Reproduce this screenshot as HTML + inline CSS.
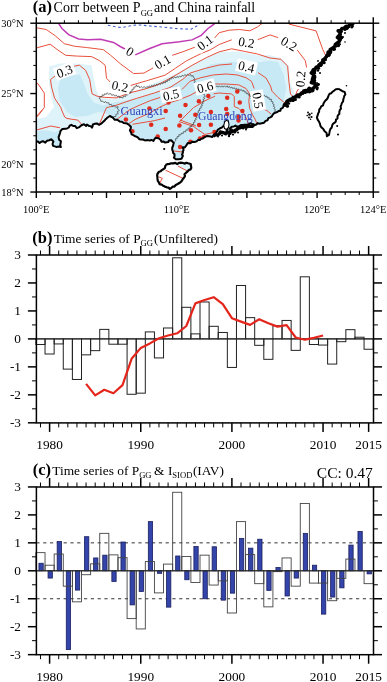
<!DOCTYPE html>
<html><head><meta charset="utf-8"><title>Figure</title><style>
html,body{margin:0;padding:0;background:#fff;}
svg{display:block;}
text{font-family:'Liberation Serif', 'Times New Roman', serif;fill:#000;}
.tl{font-size:13.3px;}
.tt{font-size:14px;}
.tt2{font-size:13.4px;}
.bd{font-weight:bold;font-size:16.5px;}
.sub{font-size:8.6px;}
.cc{font-size:15.5px;}
.ml{font-size:10.5px;}
.cl{font-size:13px;}
.pn{font-size:11.7px;fill:#3344bb;}
</style></head>
<body>
<svg width="387" height="682" viewBox="0 0 387 682">
<rect width="387" height="682" fill="#fff"/>
<rect x="35.93" y="338.90" width="9.11" height="5.59" fill="none" stroke="#222" stroke-width="1"/>
<rect x="45.04" y="338.90" width="9.11" height="15.10" fill="none" stroke="#222" stroke-width="1"/>
<rect x="54.16" y="338.90" width="9.11" height="5.03" fill="none" stroke="#222" stroke-width="1"/>
<rect x="63.27" y="338.90" width="9.12" height="30.21" fill="none" stroke="#222" stroke-width="1"/>
<rect x="72.39" y="338.90" width="9.12" height="40.56" fill="none" stroke="#222" stroke-width="1"/>
<rect x="81.50" y="338.90" width="9.12" height="15.94" fill="none" stroke="#222" stroke-width="1"/>
<rect x="90.62" y="338.90" width="9.12" height="11.75" fill="none" stroke="#222" stroke-width="1"/>
<rect x="99.73" y="329.39" width="9.12" height="9.51" fill="none" stroke="#222" stroke-width="1"/>
<rect x="108.85" y="338.90" width="9.12" height="5.31" fill="none" stroke="#222" stroke-width="1"/>
<rect x="117.96" y="338.90" width="9.12" height="5.31" fill="none" stroke="#222" stroke-width="1"/>
<rect x="127.08" y="338.90" width="9.12" height="55.38" fill="none" stroke="#222" stroke-width="1"/>
<rect x="136.19" y="338.90" width="9.12" height="54.26" fill="none" stroke="#222" stroke-width="1"/>
<rect x="145.31" y="331.91" width="9.12" height="6.99" fill="none" stroke="#222" stroke-width="1"/>
<rect x="154.42" y="338.90" width="9.12" height="19.02" fill="none" stroke="#222" stroke-width="1"/>
<rect x="163.54" y="327.99" width="9.12" height="10.91" fill="none" stroke="#222" stroke-width="1"/>
<rect x="172.65" y="257.79" width="9.12" height="81.11" fill="none" stroke="#222" stroke-width="1"/>
<rect x="181.77" y="307.29" width="9.12" height="31.61" fill="none" stroke="#222" stroke-width="1"/>
<rect x="190.88" y="333.87" width="9.12" height="5.03" fill="none" stroke="#222" stroke-width="1"/>
<rect x="200.00" y="301.98" width="9.12" height="36.92" fill="none" stroke="#222" stroke-width="1"/>
<rect x="209.11" y="326.31" width="9.12" height="12.59" fill="none" stroke="#222" stroke-width="1"/>
<rect x="218.23" y="332.47" width="9.12" height="6.43" fill="none" stroke="#222" stroke-width="1"/>
<rect x="227.34" y="338.90" width="9.12" height="28.53" fill="none" stroke="#222" stroke-width="1"/>
<rect x="236.46" y="285.48" width="9.12" height="53.42" fill="none" stroke="#222" stroke-width="1"/>
<rect x="245.57" y="317.64" width="9.12" height="21.26" fill="none" stroke="#222" stroke-width="1"/>
<rect x="254.69" y="338.90" width="9.12" height="6.43" fill="none" stroke="#222" stroke-width="1"/>
<rect x="263.80" y="338.90" width="9.12" height="20.42" fill="none" stroke="#222" stroke-width="1"/>
<rect x="272.92" y="325.75" width="9.12" height="13.15" fill="none" stroke="#222" stroke-width="1"/>
<rect x="282.03" y="320.44" width="9.12" height="18.46" fill="none" stroke="#222" stroke-width="1"/>
<rect x="291.15" y="338.90" width="9.12" height="11.47" fill="none" stroke="#222" stroke-width="1"/>
<rect x="300.26" y="276.81" width="9.12" height="62.09" fill="none" stroke="#222" stroke-width="1"/>
<rect x="309.38" y="338.90" width="9.12" height="5.59" fill="none" stroke="#222" stroke-width="1"/>
<rect x="318.49" y="338.90" width="9.12" height="6.15" fill="none" stroke="#222" stroke-width="1"/>
<rect x="327.61" y="338.90" width="9.12" height="25.17" fill="none" stroke="#222" stroke-width="1"/>
<rect x="336.72" y="338.90" width="9.12" height="2.80" fill="none" stroke="#222" stroke-width="1"/>
<rect x="345.84" y="329.67" width="9.12" height="9.23" fill="none" stroke="#222" stroke-width="1"/>
<rect x="354.95" y="337.22" width="9.12" height="1.68" fill="none" stroke="#222" stroke-width="1"/>
<rect x="364.07" y="338.90" width="9.12" height="10.35" fill="none" stroke="#222" stroke-width="1"/>
<line x1="36.4" y1="338.9" x2="373.5" y2="338.9" stroke="#222" stroke-width="1"/>
<polyline points="86.1,383.9 95.2,395.4 104.3,389.8 113.4,393.2 122.5,385.1 131.6,358.8 140.8,347.9 149.9,343.4 159.0,338.3 168.1,335.5 177.2,333.3 186.3,326.0 195.4,303.4 204.6,300.0 213.7,297.2 222.8,304.2 231.9,318.2 241.0,321.6 250.1,324.9 259.2,319.3 268.4,323.2 277.5,326.6 286.6,325.2 295.7,337.5 304.8,339.7 313.9,337.8 323.1,335.5" fill="none" stroke="#e3251b" stroke-width="2.2" stroke-linejoin="round"/>
<line x1="27.9" y1="422.81" x2="36.4" y2="422.81" stroke="#000" stroke-width="1.5"/>
<text x="21" y="427.11" text-anchor="end" class="tl">-3</text>
<line x1="27.9" y1="394.84" x2="36.4" y2="394.84" stroke="#000" stroke-width="1.5"/>
<text x="21" y="399.14" text-anchor="end" class="tl">-2</text>
<line x1="27.9" y1="366.87" x2="36.4" y2="366.87" stroke="#000" stroke-width="1.5"/>
<text x="21" y="371.17" text-anchor="end" class="tl">-1</text>
<line x1="27.9" y1="338.90" x2="36.4" y2="338.90" stroke="#000" stroke-width="1.5"/>
<text x="21" y="343.20" text-anchor="end" class="tl">0</text>
<line x1="27.9" y1="310.93" x2="36.4" y2="310.93" stroke="#000" stroke-width="1.5"/>
<text x="21" y="315.23" text-anchor="end" class="tl">1</text>
<line x1="27.9" y1="282.96" x2="36.4" y2="282.96" stroke="#000" stroke-width="1.5"/>
<text x="21" y="287.26" text-anchor="end" class="tl">2</text>
<line x1="27.9" y1="254.99" x2="36.4" y2="254.99" stroke="#000" stroke-width="1.5"/>
<text x="21" y="259.29" text-anchor="end" class="tl">3</text>
<line x1="32.0" y1="408.82" x2="36.4" y2="408.82" stroke="#000" stroke-width="1"/>
<line x1="32.0" y1="380.85" x2="36.4" y2="380.85" stroke="#000" stroke-width="1"/>
<line x1="32.0" y1="352.88" x2="36.4" y2="352.88" stroke="#000" stroke-width="1"/>
<line x1="32.0" y1="324.91" x2="36.4" y2="324.91" stroke="#000" stroke-width="1"/>
<line x1="32.0" y1="296.94" x2="36.4" y2="296.94" stroke="#000" stroke-width="1"/>
<line x1="32.0" y1="268.97" x2="36.4" y2="268.97" stroke="#000" stroke-width="1"/>
<line x1="40.48" y1="422.90" x2="40.48" y2="427.40" stroke="#000" stroke-width="1"/>
<line x1="40.48" y1="255.00" x2="40.48" y2="250.50" stroke="#000" stroke-width="1"/>
<line x1="49.60" y1="422.90" x2="49.60" y2="431.90" stroke="#000" stroke-width="1.5"/>
<line x1="49.60" y1="255.00" x2="49.60" y2="246.00" stroke="#000" stroke-width="1.5"/>
<text x="49.60" y="449.00" text-anchor="middle" class="tl">1980</text>
<line x1="58.72" y1="422.90" x2="58.72" y2="427.40" stroke="#000" stroke-width="1"/>
<line x1="58.72" y1="255.00" x2="58.72" y2="250.50" stroke="#000" stroke-width="1"/>
<line x1="67.83" y1="422.90" x2="67.83" y2="427.40" stroke="#000" stroke-width="1"/>
<line x1="67.83" y1="255.00" x2="67.83" y2="250.50" stroke="#000" stroke-width="1"/>
<line x1="76.94" y1="422.90" x2="76.94" y2="427.40" stroke="#000" stroke-width="1"/>
<line x1="76.94" y1="255.00" x2="76.94" y2="250.50" stroke="#000" stroke-width="1"/>
<line x1="86.06" y1="422.90" x2="86.06" y2="427.40" stroke="#000" stroke-width="1"/>
<line x1="86.06" y1="255.00" x2="86.06" y2="250.50" stroke="#000" stroke-width="1"/>
<line x1="95.18" y1="422.90" x2="95.18" y2="427.40" stroke="#000" stroke-width="1"/>
<line x1="95.18" y1="255.00" x2="95.18" y2="250.50" stroke="#000" stroke-width="1"/>
<line x1="104.29" y1="422.90" x2="104.29" y2="427.40" stroke="#000" stroke-width="1"/>
<line x1="104.29" y1="255.00" x2="104.29" y2="250.50" stroke="#000" stroke-width="1"/>
<line x1="113.41" y1="422.90" x2="113.41" y2="427.40" stroke="#000" stroke-width="1"/>
<line x1="113.41" y1="255.00" x2="113.41" y2="250.50" stroke="#000" stroke-width="1"/>
<line x1="122.52" y1="422.90" x2="122.52" y2="427.40" stroke="#000" stroke-width="1"/>
<line x1="122.52" y1="255.00" x2="122.52" y2="250.50" stroke="#000" stroke-width="1"/>
<line x1="131.63" y1="422.90" x2="131.63" y2="427.40" stroke="#000" stroke-width="1"/>
<line x1="131.63" y1="255.00" x2="131.63" y2="250.50" stroke="#000" stroke-width="1"/>
<line x1="140.75" y1="422.90" x2="140.75" y2="431.90" stroke="#000" stroke-width="1.5"/>
<line x1="140.75" y1="255.00" x2="140.75" y2="246.00" stroke="#000" stroke-width="1.5"/>
<text x="140.75" y="449.00" text-anchor="middle" class="tl">1990</text>
<line x1="149.87" y1="422.90" x2="149.87" y2="427.40" stroke="#000" stroke-width="1"/>
<line x1="149.87" y1="255.00" x2="149.87" y2="250.50" stroke="#000" stroke-width="1"/>
<line x1="158.98" y1="422.90" x2="158.98" y2="427.40" stroke="#000" stroke-width="1"/>
<line x1="158.98" y1="255.00" x2="158.98" y2="250.50" stroke="#000" stroke-width="1"/>
<line x1="168.09" y1="422.90" x2="168.09" y2="427.40" stroke="#000" stroke-width="1"/>
<line x1="168.09" y1="255.00" x2="168.09" y2="250.50" stroke="#000" stroke-width="1"/>
<line x1="177.21" y1="422.90" x2="177.21" y2="427.40" stroke="#000" stroke-width="1"/>
<line x1="177.21" y1="255.00" x2="177.21" y2="250.50" stroke="#000" stroke-width="1"/>
<line x1="186.32" y1="422.90" x2="186.32" y2="427.40" stroke="#000" stroke-width="1"/>
<line x1="186.32" y1="255.00" x2="186.32" y2="250.50" stroke="#000" stroke-width="1"/>
<line x1="195.44" y1="422.90" x2="195.44" y2="427.40" stroke="#000" stroke-width="1"/>
<line x1="195.44" y1="255.00" x2="195.44" y2="250.50" stroke="#000" stroke-width="1"/>
<line x1="204.56" y1="422.90" x2="204.56" y2="427.40" stroke="#000" stroke-width="1"/>
<line x1="204.56" y1="255.00" x2="204.56" y2="250.50" stroke="#000" stroke-width="1"/>
<line x1="213.67" y1="422.90" x2="213.67" y2="427.40" stroke="#000" stroke-width="1"/>
<line x1="213.67" y1="255.00" x2="213.67" y2="250.50" stroke="#000" stroke-width="1"/>
<line x1="222.78" y1="422.90" x2="222.78" y2="427.40" stroke="#000" stroke-width="1"/>
<line x1="222.78" y1="255.00" x2="222.78" y2="250.50" stroke="#000" stroke-width="1"/>
<line x1="231.90" y1="422.90" x2="231.90" y2="431.90" stroke="#000" stroke-width="1.5"/>
<line x1="231.90" y1="255.00" x2="231.90" y2="246.00" stroke="#000" stroke-width="1.5"/>
<text x="231.90" y="449.00" text-anchor="middle" class="tl">2000</text>
<line x1="241.01" y1="422.90" x2="241.01" y2="427.40" stroke="#000" stroke-width="1"/>
<line x1="241.01" y1="255.00" x2="241.01" y2="250.50" stroke="#000" stroke-width="1"/>
<line x1="250.13" y1="422.90" x2="250.13" y2="427.40" stroke="#000" stroke-width="1"/>
<line x1="250.13" y1="255.00" x2="250.13" y2="250.50" stroke="#000" stroke-width="1"/>
<line x1="259.25" y1="422.90" x2="259.25" y2="427.40" stroke="#000" stroke-width="1"/>
<line x1="259.25" y1="255.00" x2="259.25" y2="250.50" stroke="#000" stroke-width="1"/>
<line x1="268.36" y1="422.90" x2="268.36" y2="427.40" stroke="#000" stroke-width="1"/>
<line x1="268.36" y1="255.00" x2="268.36" y2="250.50" stroke="#000" stroke-width="1"/>
<line x1="277.48" y1="422.90" x2="277.48" y2="427.40" stroke="#000" stroke-width="1"/>
<line x1="277.48" y1="255.00" x2="277.48" y2="250.50" stroke="#000" stroke-width="1"/>
<line x1="286.59" y1="422.90" x2="286.59" y2="427.40" stroke="#000" stroke-width="1"/>
<line x1="286.59" y1="255.00" x2="286.59" y2="250.50" stroke="#000" stroke-width="1"/>
<line x1="295.71" y1="422.90" x2="295.71" y2="427.40" stroke="#000" stroke-width="1"/>
<line x1="295.71" y1="255.00" x2="295.71" y2="250.50" stroke="#000" stroke-width="1"/>
<line x1="304.82" y1="422.90" x2="304.82" y2="427.40" stroke="#000" stroke-width="1"/>
<line x1="304.82" y1="255.00" x2="304.82" y2="250.50" stroke="#000" stroke-width="1"/>
<line x1="313.94" y1="422.90" x2="313.94" y2="427.40" stroke="#000" stroke-width="1"/>
<line x1="313.94" y1="255.00" x2="313.94" y2="250.50" stroke="#000" stroke-width="1"/>
<line x1="323.05" y1="422.90" x2="323.05" y2="431.90" stroke="#000" stroke-width="1.5"/>
<line x1="323.05" y1="255.00" x2="323.05" y2="246.00" stroke="#000" stroke-width="1.5"/>
<text x="323.05" y="449.00" text-anchor="middle" class="tl">2010</text>
<line x1="332.17" y1="422.90" x2="332.17" y2="427.40" stroke="#000" stroke-width="1"/>
<line x1="332.17" y1="255.00" x2="332.17" y2="250.50" stroke="#000" stroke-width="1"/>
<line x1="341.28" y1="422.90" x2="341.28" y2="427.40" stroke="#000" stroke-width="1"/>
<line x1="341.28" y1="255.00" x2="341.28" y2="250.50" stroke="#000" stroke-width="1"/>
<line x1="350.40" y1="422.90" x2="350.40" y2="427.40" stroke="#000" stroke-width="1"/>
<line x1="350.40" y1="255.00" x2="350.40" y2="250.50" stroke="#000" stroke-width="1"/>
<line x1="359.51" y1="422.90" x2="359.51" y2="427.40" stroke="#000" stroke-width="1"/>
<line x1="359.51" y1="255.00" x2="359.51" y2="250.50" stroke="#000" stroke-width="1"/>
<line x1="368.63" y1="422.90" x2="368.63" y2="431.90" stroke="#000" stroke-width="1.5"/>
<line x1="368.63" y1="255.00" x2="368.63" y2="246.00" stroke="#000" stroke-width="1.5"/>
<text x="368.63" y="449.00" text-anchor="middle" class="tl">2015</text>
<line x1="373.5" y1="422.81" x2="382.0" y2="422.81" stroke="#000" stroke-width="1.5"/>
<line x1="373.5" y1="408.82" x2="377.9" y2="408.82" stroke="#000" stroke-width="1"/>
<line x1="373.5" y1="394.84" x2="382.0" y2="394.84" stroke="#000" stroke-width="1.5"/>
<line x1="373.5" y1="380.85" x2="377.9" y2="380.85" stroke="#000" stroke-width="1"/>
<line x1="373.5" y1="366.87" x2="382.0" y2="366.87" stroke="#000" stroke-width="1.5"/>
<line x1="373.5" y1="352.88" x2="377.9" y2="352.88" stroke="#000" stroke-width="1"/>
<line x1="373.5" y1="338.90" x2="382.0" y2="338.90" stroke="#000" stroke-width="1.5"/>
<line x1="373.5" y1="324.91" x2="377.9" y2="324.91" stroke="#000" stroke-width="1"/>
<line x1="373.5" y1="310.93" x2="382.0" y2="310.93" stroke="#000" stroke-width="1.5"/>
<line x1="373.5" y1="296.94" x2="377.9" y2="296.94" stroke="#000" stroke-width="1"/>
<line x1="373.5" y1="282.96" x2="382.0" y2="282.96" stroke="#000" stroke-width="1.5"/>
<line x1="373.5" y1="268.97" x2="377.9" y2="268.97" stroke="#000" stroke-width="1"/>
<line x1="373.5" y1="254.99" x2="382.0" y2="254.99" stroke="#000" stroke-width="1.5"/>
<rect x="36.40" y="255.00" width="337.10" height="167.90" fill="none" stroke="#000" stroke-width="1.5"/>
<line x1="36.4" y1="542.85" x2="373.5" y2="542.85" stroke="#333" stroke-width="1" stroke-dasharray="3.2,3.6"/>
<line x1="36.4" y1="598.75" x2="373.5" y2="598.75" stroke="#333" stroke-width="1" stroke-dasharray="3.2,3.6"/>
<rect x="38.94" y="563.25" width="4.30" height="7.55" fill="#3344aa" stroke="#1a1f5e" stroke-width="0.8"/>
<rect x="48.05" y="570.80" width="4.30" height="7.27" fill="#3344aa" stroke="#1a1f5e" stroke-width="0.8"/>
<rect x="57.17" y="541.45" width="4.30" height="29.35" fill="#3344aa" stroke="#1a1f5e" stroke-width="0.8"/>
<rect x="66.28" y="570.80" width="4.30" height="78.82" fill="#3344aa" stroke="#1a1f5e" stroke-width="0.8"/>
<rect x="75.39" y="570.80" width="4.30" height="19.29" fill="#3344aa" stroke="#1a1f5e" stroke-width="0.8"/>
<rect x="84.51" y="536.70" width="4.30" height="34.10" fill="#3344aa" stroke="#1a1f5e" stroke-width="0.8"/>
<rect x="93.62" y="557.94" width="4.30" height="12.86" fill="#3344aa" stroke="#1a1f5e" stroke-width="0.8"/>
<rect x="102.74" y="555.15" width="4.30" height="15.65" fill="#3344aa" stroke="#1a1f5e" stroke-width="0.8"/>
<rect x="111.85" y="570.80" width="4.30" height="10.62" fill="#3344aa" stroke="#1a1f5e" stroke-width="0.8"/>
<rect x="120.97" y="542.01" width="4.30" height="28.79" fill="#3344aa" stroke="#1a1f5e" stroke-width="0.8"/>
<rect x="130.08" y="570.80" width="4.30" height="34.10" fill="#3344aa" stroke="#1a1f5e" stroke-width="0.8"/>
<rect x="139.20" y="570.80" width="4.30" height="20.68" fill="#3344aa" stroke="#1a1f5e" stroke-width="0.8"/>
<rect x="148.31" y="521.61" width="4.30" height="49.19" fill="#3344aa" stroke="#1a1f5e" stroke-width="0.8"/>
<rect x="157.43" y="570.80" width="4.30" height="2.52" fill="#3344aa" stroke="#1a1f5e" stroke-width="0.8"/>
<rect x="166.54" y="570.80" width="4.30" height="36.34" fill="#3344aa" stroke="#1a1f5e" stroke-width="0.8"/>
<rect x="175.66" y="555.99" width="4.30" height="14.81" fill="#3344aa" stroke="#1a1f5e" stroke-width="0.8"/>
<rect x="184.77" y="570.80" width="4.30" height="8.94" fill="#3344aa" stroke="#1a1f5e" stroke-width="0.8"/>
<rect x="193.89" y="546.48" width="4.30" height="24.32" fill="#3344aa" stroke="#1a1f5e" stroke-width="0.8"/>
<rect x="203.00" y="570.80" width="4.30" height="27.95" fill="#3344aa" stroke="#1a1f5e" stroke-width="0.8"/>
<rect x="212.12" y="546.76" width="4.30" height="24.04" fill="#3344aa" stroke="#1a1f5e" stroke-width="0.8"/>
<rect x="221.23" y="570.80" width="4.30" height="29.35" fill="#3344aa" stroke="#1a1f5e" stroke-width="0.8"/>
<rect x="230.35" y="570.80" width="4.30" height="22.36" fill="#3344aa" stroke="#1a1f5e" stroke-width="0.8"/>
<rect x="239.46" y="538.38" width="4.30" height="32.42" fill="#3344aa" stroke="#1a1f5e" stroke-width="0.8"/>
<rect x="248.58" y="548.16" width="4.30" height="22.64" fill="#3344aa" stroke="#1a1f5e" stroke-width="0.8"/>
<rect x="257.70" y="539.22" width="4.30" height="31.58" fill="#3344aa" stroke="#1a1f5e" stroke-width="0.8"/>
<rect x="266.81" y="570.80" width="4.30" height="19.57" fill="#3344aa" stroke="#1a1f5e" stroke-width="0.8"/>
<rect x="275.93" y="567.45" width="4.30" height="3.35" fill="#3344aa" stroke="#1a1f5e" stroke-width="0.8"/>
<rect x="285.04" y="570.80" width="4.30" height="25.15" fill="#3344aa" stroke="#1a1f5e" stroke-width="0.8"/>
<rect x="294.16" y="570.80" width="4.30" height="7.27" fill="#3344aa" stroke="#1a1f5e" stroke-width="0.8"/>
<rect x="303.27" y="533.35" width="4.30" height="37.45" fill="#3344aa" stroke="#1a1f5e" stroke-width="0.8"/>
<rect x="312.39" y="565.21" width="4.30" height="5.59" fill="#3344aa" stroke="#1a1f5e" stroke-width="0.8"/>
<rect x="321.50" y="570.80" width="4.30" height="43.32" fill="#3344aa" stroke="#1a1f5e" stroke-width="0.8"/>
<rect x="330.62" y="570.80" width="4.30" height="26.27" fill="#3344aa" stroke="#1a1f5e" stroke-width="0.8"/>
<rect x="339.73" y="570.80" width="4.30" height="17.05" fill="#3344aa" stroke="#1a1f5e" stroke-width="0.8"/>
<rect x="348.85" y="545.09" width="4.30" height="25.71" fill="#3344aa" stroke="#1a1f5e" stroke-width="0.8"/>
<rect x="357.96" y="531.39" width="4.30" height="39.41" fill="#3344aa" stroke="#1a1f5e" stroke-width="0.8"/>
<rect x="367.08" y="570.80" width="4.30" height="3.07" fill="#3344aa" stroke="#1a1f5e" stroke-width="0.8"/>
<rect x="35.93" y="552.63" width="9.11" height="18.17" fill="none" stroke="#444" stroke-width="0.9"/>
<rect x="45.04" y="565.21" width="9.11" height="5.59" fill="none" stroke="#444" stroke-width="0.9"/>
<rect x="54.16" y="554.03" width="9.11" height="16.77" fill="none" stroke="#444" stroke-width="0.9"/>
<rect x="63.27" y="570.80" width="9.12" height="15.37" fill="none" stroke="#444" stroke-width="0.9"/>
<rect x="72.39" y="570.80" width="9.12" height="31.02" fill="none" stroke="#444" stroke-width="0.9"/>
<rect x="81.50" y="570.80" width="9.12" height="3.91" fill="none" stroke="#444" stroke-width="0.9"/>
<rect x="90.62" y="563.81" width="9.12" height="6.99" fill="none" stroke="#444" stroke-width="0.9"/>
<rect x="99.73" y="533.35" width="9.12" height="37.45" fill="none" stroke="#444" stroke-width="0.9"/>
<rect x="108.85" y="554.87" width="9.12" height="15.93" fill="none" stroke="#444" stroke-width="0.9"/>
<rect x="117.96" y="557.66" width="9.12" height="13.14" fill="none" stroke="#444" stroke-width="0.9"/>
<rect x="127.08" y="570.80" width="9.12" height="47.79" fill="none" stroke="#444" stroke-width="0.9"/>
<rect x="136.19" y="570.80" width="9.12" height="58.14" fill="none" stroke="#444" stroke-width="0.9"/>
<rect x="145.31" y="561.58" width="9.12" height="9.22" fill="none" stroke="#444" stroke-width="0.9"/>
<rect x="154.42" y="570.80" width="9.12" height="22.08" fill="none" stroke="#444" stroke-width="0.9"/>
<rect x="163.54" y="564.09" width="9.12" height="6.71" fill="none" stroke="#444" stroke-width="0.9"/>
<rect x="172.65" y="492.26" width="9.12" height="78.54" fill="none" stroke="#444" stroke-width="0.9"/>
<rect x="181.77" y="556.55" width="9.12" height="14.25" fill="none" stroke="#444" stroke-width="0.9"/>
<rect x="190.88" y="570.80" width="9.12" height="11.74" fill="none" stroke="#444" stroke-width="0.9"/>
<rect x="200.00" y="555.15" width="9.12" height="15.65" fill="none" stroke="#444" stroke-width="0.9"/>
<rect x="209.11" y="570.80" width="9.12" height="14.25" fill="none" stroke="#444" stroke-width="0.9"/>
<rect x="218.23" y="570.80" width="9.12" height="10.06" fill="none" stroke="#444" stroke-width="0.9"/>
<rect x="227.34" y="570.80" width="9.12" height="42.20" fill="none" stroke="#444" stroke-width="0.9"/>
<rect x="236.46" y="521.61" width="9.12" height="49.19" fill="none" stroke="#444" stroke-width="0.9"/>
<rect x="245.57" y="554.59" width="9.12" height="16.21" fill="none" stroke="#444" stroke-width="0.9"/>
<rect x="254.69" y="570.80" width="9.12" height="12.86" fill="none" stroke="#444" stroke-width="0.9"/>
<rect x="263.80" y="570.80" width="9.12" height="36.06" fill="none" stroke="#444" stroke-width="0.9"/>
<rect x="272.92" y="570.80" width="9.12" height="0.84" fill="none" stroke="#444" stroke-width="0.9"/>
<rect x="282.03" y="557.94" width="9.12" height="12.86" fill="none" stroke="#444" stroke-width="0.9"/>
<rect x="291.15" y="570.80" width="9.12" height="15.37" fill="none" stroke="#444" stroke-width="0.9"/>
<rect x="300.26" y="503.44" width="9.12" height="67.36" fill="none" stroke="#444" stroke-width="0.9"/>
<rect x="309.38" y="570.80" width="9.12" height="12.30" fill="none" stroke="#444" stroke-width="0.9"/>
<rect x="318.49" y="570.80" width="9.12" height="12.30" fill="none" stroke="#444" stroke-width="0.9"/>
<rect x="327.61" y="570.80" width="9.12" height="29.91" fill="none" stroke="#444" stroke-width="0.9"/>
<rect x="336.72" y="570.80" width="9.12" height="7.55" fill="none" stroke="#444" stroke-width="0.9"/>
<rect x="345.84" y="559.06" width="9.12" height="11.74" fill="none" stroke="#444" stroke-width="0.9"/>
<rect x="354.95" y="570.80" width="9.12" height="0.01" fill="none" stroke="#444" stroke-width="0.9"/>
<rect x="364.07" y="570.80" width="9.12" height="12.86" fill="none" stroke="#444" stroke-width="0.9"/>
<line x1="36.4" y1="570.8" x2="373.5" y2="570.8" stroke="#222" stroke-width="1"/>
<line x1="27.9" y1="654.65" x2="36.4" y2="654.65" stroke="#000" stroke-width="1.5"/>
<text x="21" y="658.95" text-anchor="end" class="tl">-3</text>
<line x1="27.9" y1="626.70" x2="36.4" y2="626.70" stroke="#000" stroke-width="1.5"/>
<text x="21" y="631.00" text-anchor="end" class="tl">-2</text>
<line x1="27.9" y1="598.75" x2="36.4" y2="598.75" stroke="#000" stroke-width="1.5"/>
<text x="21" y="603.05" text-anchor="end" class="tl">-1</text>
<line x1="27.9" y1="570.80" x2="36.4" y2="570.80" stroke="#000" stroke-width="1.5"/>
<text x="21" y="575.10" text-anchor="end" class="tl">0</text>
<line x1="27.9" y1="542.85" x2="36.4" y2="542.85" stroke="#000" stroke-width="1.5"/>
<text x="21" y="547.15" text-anchor="end" class="tl">1</text>
<line x1="27.9" y1="514.90" x2="36.4" y2="514.90" stroke="#000" stroke-width="1.5"/>
<text x="21" y="519.20" text-anchor="end" class="tl">2</text>
<line x1="27.9" y1="486.95" x2="36.4" y2="486.95" stroke="#000" stroke-width="1.5"/>
<text x="21" y="491.25" text-anchor="end" class="tl">3</text>
<line x1="32.0" y1="640.67" x2="36.4" y2="640.67" stroke="#000" stroke-width="1"/>
<line x1="32.0" y1="612.72" x2="36.4" y2="612.72" stroke="#000" stroke-width="1"/>
<line x1="32.0" y1="584.77" x2="36.4" y2="584.77" stroke="#000" stroke-width="1"/>
<line x1="32.0" y1="556.82" x2="36.4" y2="556.82" stroke="#000" stroke-width="1"/>
<line x1="32.0" y1="528.88" x2="36.4" y2="528.88" stroke="#000" stroke-width="1"/>
<line x1="32.0" y1="500.92" x2="36.4" y2="500.92" stroke="#000" stroke-width="1"/>
<line x1="40.48" y1="654.70" x2="40.48" y2="659.20" stroke="#000" stroke-width="1"/>
<line x1="40.48" y1="487.00" x2="40.48" y2="482.50" stroke="#000" stroke-width="1"/>
<line x1="49.60" y1="654.70" x2="49.60" y2="663.70" stroke="#000" stroke-width="1.5"/>
<line x1="49.60" y1="487.00" x2="49.60" y2="478.00" stroke="#000" stroke-width="1.5"/>
<text x="49.60" y="681.00" text-anchor="middle" class="tl">1980</text>
<line x1="58.72" y1="654.70" x2="58.72" y2="659.20" stroke="#000" stroke-width="1"/>
<line x1="58.72" y1="487.00" x2="58.72" y2="482.50" stroke="#000" stroke-width="1"/>
<line x1="67.83" y1="654.70" x2="67.83" y2="659.20" stroke="#000" stroke-width="1"/>
<line x1="67.83" y1="487.00" x2="67.83" y2="482.50" stroke="#000" stroke-width="1"/>
<line x1="76.94" y1="654.70" x2="76.94" y2="659.20" stroke="#000" stroke-width="1"/>
<line x1="76.94" y1="487.00" x2="76.94" y2="482.50" stroke="#000" stroke-width="1"/>
<line x1="86.06" y1="654.70" x2="86.06" y2="659.20" stroke="#000" stroke-width="1"/>
<line x1="86.06" y1="487.00" x2="86.06" y2="482.50" stroke="#000" stroke-width="1"/>
<line x1="95.18" y1="654.70" x2="95.18" y2="659.20" stroke="#000" stroke-width="1"/>
<line x1="95.18" y1="487.00" x2="95.18" y2="482.50" stroke="#000" stroke-width="1"/>
<line x1="104.29" y1="654.70" x2="104.29" y2="659.20" stroke="#000" stroke-width="1"/>
<line x1="104.29" y1="487.00" x2="104.29" y2="482.50" stroke="#000" stroke-width="1"/>
<line x1="113.41" y1="654.70" x2="113.41" y2="659.20" stroke="#000" stroke-width="1"/>
<line x1="113.41" y1="487.00" x2="113.41" y2="482.50" stroke="#000" stroke-width="1"/>
<line x1="122.52" y1="654.70" x2="122.52" y2="659.20" stroke="#000" stroke-width="1"/>
<line x1="122.52" y1="487.00" x2="122.52" y2="482.50" stroke="#000" stroke-width="1"/>
<line x1="131.63" y1="654.70" x2="131.63" y2="659.20" stroke="#000" stroke-width="1"/>
<line x1="131.63" y1="487.00" x2="131.63" y2="482.50" stroke="#000" stroke-width="1"/>
<line x1="140.75" y1="654.70" x2="140.75" y2="663.70" stroke="#000" stroke-width="1.5"/>
<line x1="140.75" y1="487.00" x2="140.75" y2="478.00" stroke="#000" stroke-width="1.5"/>
<text x="140.75" y="681.00" text-anchor="middle" class="tl">1990</text>
<line x1="149.87" y1="654.70" x2="149.87" y2="659.20" stroke="#000" stroke-width="1"/>
<line x1="149.87" y1="487.00" x2="149.87" y2="482.50" stroke="#000" stroke-width="1"/>
<line x1="158.98" y1="654.70" x2="158.98" y2="659.20" stroke="#000" stroke-width="1"/>
<line x1="158.98" y1="487.00" x2="158.98" y2="482.50" stroke="#000" stroke-width="1"/>
<line x1="168.09" y1="654.70" x2="168.09" y2="659.20" stroke="#000" stroke-width="1"/>
<line x1="168.09" y1="487.00" x2="168.09" y2="482.50" stroke="#000" stroke-width="1"/>
<line x1="177.21" y1="654.70" x2="177.21" y2="659.20" stroke="#000" stroke-width="1"/>
<line x1="177.21" y1="487.00" x2="177.21" y2="482.50" stroke="#000" stroke-width="1"/>
<line x1="186.32" y1="654.70" x2="186.32" y2="659.20" stroke="#000" stroke-width="1"/>
<line x1="186.32" y1="487.00" x2="186.32" y2="482.50" stroke="#000" stroke-width="1"/>
<line x1="195.44" y1="654.70" x2="195.44" y2="659.20" stroke="#000" stroke-width="1"/>
<line x1="195.44" y1="487.00" x2="195.44" y2="482.50" stroke="#000" stroke-width="1"/>
<line x1="204.56" y1="654.70" x2="204.56" y2="659.20" stroke="#000" stroke-width="1"/>
<line x1="204.56" y1="487.00" x2="204.56" y2="482.50" stroke="#000" stroke-width="1"/>
<line x1="213.67" y1="654.70" x2="213.67" y2="659.20" stroke="#000" stroke-width="1"/>
<line x1="213.67" y1="487.00" x2="213.67" y2="482.50" stroke="#000" stroke-width="1"/>
<line x1="222.78" y1="654.70" x2="222.78" y2="659.20" stroke="#000" stroke-width="1"/>
<line x1="222.78" y1="487.00" x2="222.78" y2="482.50" stroke="#000" stroke-width="1"/>
<line x1="231.90" y1="654.70" x2="231.90" y2="663.70" stroke="#000" stroke-width="1.5"/>
<line x1="231.90" y1="487.00" x2="231.90" y2="478.00" stroke="#000" stroke-width="1.5"/>
<text x="231.90" y="681.00" text-anchor="middle" class="tl">2000</text>
<line x1="241.01" y1="654.70" x2="241.01" y2="659.20" stroke="#000" stroke-width="1"/>
<line x1="241.01" y1="487.00" x2="241.01" y2="482.50" stroke="#000" stroke-width="1"/>
<line x1="250.13" y1="654.70" x2="250.13" y2="659.20" stroke="#000" stroke-width="1"/>
<line x1="250.13" y1="487.00" x2="250.13" y2="482.50" stroke="#000" stroke-width="1"/>
<line x1="259.25" y1="654.70" x2="259.25" y2="659.20" stroke="#000" stroke-width="1"/>
<line x1="259.25" y1="487.00" x2="259.25" y2="482.50" stroke="#000" stroke-width="1"/>
<line x1="268.36" y1="654.70" x2="268.36" y2="659.20" stroke="#000" stroke-width="1"/>
<line x1="268.36" y1="487.00" x2="268.36" y2="482.50" stroke="#000" stroke-width="1"/>
<line x1="277.48" y1="654.70" x2="277.48" y2="659.20" stroke="#000" stroke-width="1"/>
<line x1="277.48" y1="487.00" x2="277.48" y2="482.50" stroke="#000" stroke-width="1"/>
<line x1="286.59" y1="654.70" x2="286.59" y2="659.20" stroke="#000" stroke-width="1"/>
<line x1="286.59" y1="487.00" x2="286.59" y2="482.50" stroke="#000" stroke-width="1"/>
<line x1="295.71" y1="654.70" x2="295.71" y2="659.20" stroke="#000" stroke-width="1"/>
<line x1="295.71" y1="487.00" x2="295.71" y2="482.50" stroke="#000" stroke-width="1"/>
<line x1="304.82" y1="654.70" x2="304.82" y2="659.20" stroke="#000" stroke-width="1"/>
<line x1="304.82" y1="487.00" x2="304.82" y2="482.50" stroke="#000" stroke-width="1"/>
<line x1="313.94" y1="654.70" x2="313.94" y2="659.20" stroke="#000" stroke-width="1"/>
<line x1="313.94" y1="487.00" x2="313.94" y2="482.50" stroke="#000" stroke-width="1"/>
<line x1="323.05" y1="654.70" x2="323.05" y2="663.70" stroke="#000" stroke-width="1.5"/>
<line x1="323.05" y1="487.00" x2="323.05" y2="478.00" stroke="#000" stroke-width="1.5"/>
<text x="323.05" y="681.00" text-anchor="middle" class="tl">2010</text>
<line x1="332.17" y1="654.70" x2="332.17" y2="659.20" stroke="#000" stroke-width="1"/>
<line x1="332.17" y1="487.00" x2="332.17" y2="482.50" stroke="#000" stroke-width="1"/>
<line x1="341.28" y1="654.70" x2="341.28" y2="659.20" stroke="#000" stroke-width="1"/>
<line x1="341.28" y1="487.00" x2="341.28" y2="482.50" stroke="#000" stroke-width="1"/>
<line x1="350.40" y1="654.70" x2="350.40" y2="659.20" stroke="#000" stroke-width="1"/>
<line x1="350.40" y1="487.00" x2="350.40" y2="482.50" stroke="#000" stroke-width="1"/>
<line x1="359.51" y1="654.70" x2="359.51" y2="659.20" stroke="#000" stroke-width="1"/>
<line x1="359.51" y1="487.00" x2="359.51" y2="482.50" stroke="#000" stroke-width="1"/>
<line x1="368.63" y1="654.70" x2="368.63" y2="663.70" stroke="#000" stroke-width="1.5"/>
<line x1="368.63" y1="487.00" x2="368.63" y2="478.00" stroke="#000" stroke-width="1.5"/>
<text x="368.63" y="681.00" text-anchor="middle" class="tl">2015</text>
<line x1="373.5" y1="654.65" x2="382.0" y2="654.65" stroke="#000" stroke-width="1.5"/>
<line x1="373.5" y1="640.67" x2="377.9" y2="640.67" stroke="#000" stroke-width="1"/>
<line x1="373.5" y1="626.70" x2="382.0" y2="626.70" stroke="#000" stroke-width="1.5"/>
<line x1="373.5" y1="612.72" x2="377.9" y2="612.72" stroke="#000" stroke-width="1"/>
<line x1="373.5" y1="598.75" x2="382.0" y2="598.75" stroke="#000" stroke-width="1.5"/>
<line x1="373.5" y1="584.77" x2="377.9" y2="584.77" stroke="#000" stroke-width="1"/>
<line x1="373.5" y1="570.80" x2="382.0" y2="570.80" stroke="#000" stroke-width="1.5"/>
<line x1="373.5" y1="556.82" x2="377.9" y2="556.82" stroke="#000" stroke-width="1"/>
<line x1="373.5" y1="542.85" x2="382.0" y2="542.85" stroke="#000" stroke-width="1.5"/>
<line x1="373.5" y1="528.88" x2="377.9" y2="528.88" stroke="#000" stroke-width="1"/>
<line x1="373.5" y1="514.90" x2="382.0" y2="514.90" stroke="#000" stroke-width="1.5"/>
<line x1="373.5" y1="500.92" x2="377.9" y2="500.92" stroke="#000" stroke-width="1"/>
<line x1="373.5" y1="486.95" x2="382.0" y2="486.95" stroke="#000" stroke-width="1.5"/>
<rect x="36.40" y="487.00" width="337.10" height="167.70" fill="none" stroke="#000" stroke-width="1.5"/>
<text x="32.7" y="12.4" class="tt"><tspan class="bd">(a)</tspan><tspan dx="1.6">Corr between P</tspan><tspan class="sub" dy="3.6">GG</tspan><tspan dy="-3.6" dx="1">and China rainfall</tspan></text>
<text x="32.3" y="242.6" class="tt2"><tspan class="bd">(b)</tspan><tspan dx="1.2">Time series of P</tspan><tspan class="sub" dy="3.4">GG</tspan><tspan dy="-3.4" dx="1">(Unfiltered)</tspan></text>
<text x="32.7" y="475" class="tt2"><tspan class="bd">(c)</tspan><tspan dx="1.2">Time series of P</tspan><tspan class="sub" dy="3.4">GG</tspan><tspan dy="-3.4" dx="-0.8"> &amp; I</tspan><tspan class="sub" dy="3.4">SIOD</tspan><tspan dy="-3.4" dx="0.5">(IAV)</tspan></text>
<text x="372.8" y="477.7" text-anchor="end" class="cc">CC: 0.47</text>
<defs>
<clipPath id="cmap"><rect x="36.3" y="23.2" width="337.0" height="168.8"/></clipPath>
<clipPath id="cland"><path d="M35.0,22.0 L352.5,22.0 L351.9,23.2 L351.9,23.9 L346.5,26.2 L341.9,28.5 L338.0,30.9 L339.5,34.0 L338.0,37.0 L339.5,39.4 L337.2,43.3 L334.9,46.4 L332.6,47.9 L331.0,50.2 L328.7,52.6 L326.4,54.9 L324.8,57.2 L323.3,60.3 L320.9,63.4 L317.8,66.5 L314.7,68.1 L312.4,69.6 L311.6,72.7 L314.0,75.8 L312.4,78.9 L311.5,82.0 L314.5,83.2 L316.2,86.0 L313.5,88.8 L309.5,89.2 L305.8,90.2 L302.5,92.3 L299.6,94.0 L296.5,96.6 L293.4,98.2 L290.3,99.7 L287.2,101.3 L284.1,106.7 L281.0,109.0 L278.7,111.4 L274.8,113.7 L271.7,116.0 L268.6,118.3 L264.0,122.2 L259.3,123.0 L254.7,124.5 L250.8,124.0 L247.7,124.0 L244.6,124.7 L241.5,125.5 L238.4,127.1 L235.3,125.5 L232.2,127.1 L230.7,128.6 L228.3,133.3 L227.6,129.4 L226.8,126.3 L225.2,124.7 L223.7,125.5 L222.1,127.1 L219.8,128.6 L218.3,130.2 L215.9,133.3 L213.6,135.6 L210.5,137.1 L207.4,136.4 L204.3,137.9 L201.2,138.7 L198.1,140.2 L194.6,141.3 L192.3,141.3 L190.0,142.8 L187.6,142.8 L186.1,144.4 L184.5,146.7 L182.2,147.5 L183.0,149.8 L182.2,152.9 L183.0,156.0 L181.4,158.3 L178.3,159.1 L176.0,159.1 L174.5,157.6 L173.7,154.5 L172.9,151.4 L172.9,147.5 L173.7,144.4 L172.9,141.3 L170.6,139.7 L168.3,142.1 L165.2,142.1 L162.1,141.3 L160.5,139.7 L158.2,139.0 L155.9,138.2 L153.5,140.5 L151.2,139.7 L148.1,140.5 L145.0,140.5 L142.7,139.9 L138.1,138.3 L135.0,136.8 L131.1,134.5 L130.3,130.6 L131.1,126.7 L129.5,124.4 L127.2,122.8 L124.1,122.8 L121.8,121.3 L119.5,121.7 L117.1,120.5 L114.8,119.7 L112.5,118.2 L110.2,116.6 L107.8,118.2 L105.5,119.0 L103.2,121.3 L100.9,123.3 L99.3,124.4 L97.0,123.6 L94.7,124.4 L93.4,124.7 L91.8,127.8 L89.5,125.5 L87.2,124.7 L85.6,126.3 L84.1,124.7 L81.7,125.5 L79.4,127.1 L77.1,127.8 L74.8,126.3 L71.7,125.2 L68.6,127.4 L65.5,129.4 L62.4,129.4 L60.0,130.9 L58.9,134.8 L59.6,139.5 L61.1,143.3 L60.8,147.2 L59.3,146.4 L56.2,147.0 L53.8,145.7 L52.7,141.8 L51.5,139.5 L49.2,140.2 L45.3,142.6 L43.0,141.8 L39.9,142.6 L37.6,141.0 L35.0,141.0 L35.0,141.0 Z M165.5,165.3 L169.4,163.8 L173.3,163.4 L177.1,163.4 L181.0,162.8 L184.9,163.0 L188.1,162.8 L190.7,164.0 L191.3,167.9 L188.8,169.9 L186.2,171.8 L184.9,174.4 L184.2,177.6 L182.3,180.2 L179.7,182.8 L175.8,185.4 L172.6,186.7 L170.0,188.6 L166.8,187.3 L162.9,186.0 L159.7,184.1 L157.8,180.8 L157.1,177.0 L157.5,173.7 L159.0,171.8 L161.6,169.9 L164.2,167.9 Z"/></clipPath>
</defs>
<g clip-path="url(#cmap)">
<g clip-path="url(#cland)">
<path d="M36.0,119.0 L46.0,117.0 L54.0,106.7 L51.5,99.0 L49.0,83.4 L49.0,66.6 L60.0,63.5 L77.0,63.5 L91.6,65.3 L94.1,79.5 L96.7,91.2 L100.6,97.6 L113.5,98.9 L120.0,97.0 L134.0,91.0 L148.0,86.0 L162.6,79.5 L176.9,73.0 L191.0,66.0 L205.0,58.5 L219.0,52.0 L239.0,51.4 L257.5,55.3 L270.0,55.3 L280.9,58.0 L289.0,66.1 L290.3,82.4 L294.4,93.3 L296.0,100.0 L250.0,200.0 L36.0,200.0 Z" fill="#dff3fa"/>
<path d="M60.5,78.3 L70.0,76.0 L80.0,74.4 L83.8,83.4 L87.7,93.8 L94.1,102.8 L103.2,105.4 L113.5,102.8 L125.0,100.5 L136.0,99.0 L148.0,95.5 L162.0,89.5 L176.9,83.0 L195.5,72.5 L211.0,64.3 L231.7,61.8 L252.4,63.0 L270.0,60.7 L278.1,62.0 L283.6,74.3 L286.3,87.8 L284.0,100.0 L250.0,200.0 L125.0,200.0 L118.0,122.0 L106.0,113.0 L98.0,112.0 L87.7,115.7 L74.8,117.0 L67.0,111.8 L59.3,100.2 L58.0,88.6 Z" fill="#c6e9f5"/>
<path d="M36.0,131.7 L42.2,130.2 L50.0,130.9 L54.6,132.5 L57.7,130.9 L62.0,129.0 L62.0,150.0 L36.0,150.0 Z" fill="#c6e9f5"/>
<path d="M165.5,165.3 L169.4,163.8 L173.3,163.4 L177.1,163.4 L181.0,162.8 L184.9,163.0 L188.1,162.8 L190.7,164.0 L191.3,167.9 L188.8,169.9 L186.2,171.8 L184.9,174.4 L184.2,177.6 L182.3,180.2 L179.7,182.8 L175.8,185.4 L172.6,186.7 L170.0,188.6 L166.8,187.3 L162.9,186.0 L159.7,184.1 L157.8,180.8 L157.1,177.0 L157.5,173.7 L159.0,171.8 L161.6,169.9 L164.2,167.9 Z" fill="#fff"/>
<path d="M176,162 L192,162 L192,170 L186,171 L178,167 Z" fill="#dff3fa"/>

<polyline points="35.0,27.5 46.3,29.5 55.4,35.9 64.4,43.7 74.8,46.3 86.4,47.5 103.2,49.6 110.3,55.0 120.7,64.0 133.6,73.6 143.9,73.1 153.0,68.0" fill="none" stroke="#e8503c" stroke-width="1"/>
<polyline points="172.2,55.3 183.1,51.7 194.8,47.2" fill="none" stroke="#e8503c" stroke-width="1"/>
<polyline points="213.8,39.0 219.2,32.7 229.1,30.2 239.4,29.5 249.8,30.8 257.5,26.9 262.7,23.0 264.0,21.0" fill="none" stroke="#e8503c" stroke-width="1"/>
<polyline points="35.0,48.3 50.2,44.2 58.0,50.1 65.7,55.3 77.3,56.1 91.6,56.6 99.3,60.5 105.2,65.3 106.5,78.3 110.3,82.1" fill="none" stroke="#e8503c" stroke-width="1"/>
<polyline points="129.0,86.0 139.8,82.7 146.5,80.8 165.0,75.2 175.8,68.0 186.7,60.7 201.2,53.5 210.2,49.9 219.2,44.5 231.7,39.8" fill="none" stroke="#e8503c" stroke-width="1"/>
<polyline points="257.5,39.8 270.0,34.9 278.1,37.6" fill="none" stroke="#e8503c" stroke-width="1"/>
<polyline points="297.1,49.8 305.3,60.7 306.6,67.5" fill="none" stroke="#e8503c" stroke-width="1"/>
<polyline points="299.0,88.5 297.1,91.0 295.0,97.0" fill="none" stroke="#e8503c" stroke-width="1"/>
<polyline points="286.0,21.0 289.0,24.1 316.1,30.9 322.9,49.8 325.6,55.3 327.0,58.0" fill="none" stroke="#e8503c" stroke-width="1"/>
<polyline points="35.0,82.0 38.0,83.8 44.3,93.1 44.3,107.5 38.0,115.8 35.0,118.0" fill="none" stroke="#e8503c" stroke-width="1"/>
<polyline points="83.0,126.0 77.9,120.1 67.0,118.5 64.7,117.0 61.6,110.0 60.8,107.5 54.6,98.2 51.5,86.9 50.5,79.6 55.0,76.0" fill="none" stroke="#e8503c" stroke-width="1"/>
<polyline points="74.2,66.2 79.4,65.2 85.6,70.3 89.7,79.6 91.5,91.0 92.3,94.0 98.0,96.5 104.5,97.3 116.2,97.9 130.0,92.8 145.0,89.0 156.0,85.5 166.0,80.5 176.0,75.0 192.1,65.3 206.6,57.5 219.2,51.8 231.7,48.8 244.6,51.4 257.5,54.0 270.0,58.0 280.9,59.3 287.6,66.1 289.0,82.4 290.5,94.3 295.0,98.0" fill="none" stroke="#e8503c" stroke-width="1"/>
<polyline points="99.4,124.0 106.5,107.6 114.9,105.7 130.0,100.5 136.2,98.5 154.2,93.0 170.0,87.5 183.1,79.0 190.0,73.1 204.5,68.6 219.2,65.0 232.0,64.0" fill="none" stroke="#e8503c" stroke-width="1"/>
<polyline points="258.0,72.6 266.0,78.0 270.5,86.0 272.0,91.2 278.0,97.4 285.7,103.6 288.0,107.0" fill="none" stroke="#e8503c" stroke-width="1"/>
<polyline points="116.2,119.9 130.0,109.5 140.0,105.0 150.6,100.5 160.0,97.5" fill="none" stroke="#e8503c" stroke-width="1"/>
<polyline points="182.0,89.5 190.0,81.3 200.8,77.7 213.5,74.9 226.2,74.0 237.0,74.9 246.0,77.7 251.5,81.3 254.2,88.5" fill="none" stroke="#e8503c" stroke-width="1"/>
<polyline points="261.6,108.3 267.0,110.6 271.0,114.0" fill="none" stroke="#e8503c" stroke-width="1"/>
<polyline points="124.0,127.0 135.0,119.5 148.8,113.5 160.0,107.0 170.0,102.6 179.3,99.7 190.9,95.0 196.0,92.0" fill="none" stroke="#e8503c" stroke-width="1"/>
<polyline points="215.3,84.0 226.2,84.0 238.8,84.9 246.0,88.5 249.7,93.9 248.8,101.2 249.7,108.4 252.4,114.7 255.1,119.2 257.0,124.0" fill="none" stroke="#e8503c" stroke-width="1"/>
<polyline points="213.5,93.9 218.9,93.0 231.6,93.9 234.3,96.6 234.3,106.6 238.8,108.4 244.2,113.8 247.0,120.0 249.0,126.0" fill="none" stroke="#e8503c" stroke-width="1"/>
<polyline points="132.5,124.3 154.2,120.7 165.0,118.0" fill="none" stroke="#e8503c" stroke-width="1"/>
<polyline points="215.0,96.2 204.9,100.8 193.3,107.8 179.3,121.7 193.3,126.4 204.9,134.5 215.0,132.2 222.0,131.0" fill="none" stroke="#e8503c" stroke-width="1"/>
<polyline points="36.0,130.2 50.7,126.0 60.0,127.8" fill="none" stroke="#e8503c" stroke-width="1"/>
<polyline points="36.0,117.0 42.2,110.0" fill="none" stroke="#e8503c" stroke-width="1"/>
<polyline points="180.0,120.0 188.4,123.1 196.0,126.0" fill="none" stroke="#e8503c" stroke-width="1"/>
<polyline points="165.5,170.2 182.9,178.3" fill="none" stroke="#e8503c" stroke-width="1"/>
<polyline points="177.8,166.0 187.5,171.1" fill="none" stroke="#e8503c" stroke-width="1"/>
<polyline points="159.0,177.0 162.3,178.3 159.7,183.4" fill="none" stroke="#e8503c" stroke-width="1"/>
<polyline points="173.9,151.0 182.1,152.0" fill="none" stroke="#e8503c" stroke-width="1"/>
<polyline points="99.8,98.4 100.0,96.5 102.0,96.7 102.3,94.7 104.0,95.5 104.6,93.7 106.2,94.5 107.2,92.7 108.6,94.4 110.7,93.4 111.7,95.3 113.7,94.6 114.8,96.2 116.3,95.1 117.2,96.6 119.1,96.0 119.7,97.9 121.0,97.3 122.9,97.9 123.6,96.0 125.6,96.6 126.0,94.6 128.0,95.0 128.4,93.0 130.5,93.2 130.3,91.4 132.1,91.3 132.0,89.3 134.0,89.1 133.8,87.1 135.8,86.9 136.5,84.8 137.1,86.6 138.9,86.0 139.8,87.9 141.2,86.5 142.7,87.9 144.1,86.5 145.6,87.9 146.8,86.5 148.4,87.6 149.2,85.9 150.8,87.0 151.6,85.3 153.2,86.4 154.0,84.7 155.6,85.8 156.5,84.1 158.0,85.2 158.9,83.5 160.5,84.6 161.3,82.9 162.9,83.9 163.6,82.1 165.4,83.0 165.7,81.2 167.4,81.7 167.7,79.9 169.5,80.4 169.8,78.6 171.5,79.1 172.1,77.2 173.5,78.4 174.5,76.8 176.0,78.0 177.0,76.4 178.4,77.6 179.3,76.0 181.0,77.0 182.0,75.3 183.7,76.2 184.8,74.5 186.3,75.8 187.5,74.3 189.0,75.6 190.7,74.2 191.1,76.1 193.1,75.7 193.2,77.1 194.8,78.2 193.7,79.8 195.3,80.9 194.1,82.6 195.9,83.6 195.0,85.4 196.8,86.3 196.0,88.2 197.9,89.0 197.2,90.9 198.3,91.3 200.1,92.4 201.2,90.7 203.0,91.7 204.0,90.1 205.7,90.8 206.3,89.0 208.0,89.7 208.6,87.9 210.2,88.7 211.2,87.0 212.8,88.1 213.9,86.4 215.5,87.5 216.7,85.8 218.0,87.2 219.3,85.8 220.6,87.2 221.8,85.8 223.1,87.2 224.4,85.8 225.7,87.2 227.2,85.8 228.0,87.5 229.5,86.4 230.4,88.1 231.9,87.0 232.8,88.7 234.3,87.6 235.1,89.3 236.6,88.2 237.5,89.9 239.0,88.8 239.8,90.5 241.3,89.4 242.2,91.1 243.9,90.1 244.1,92.0 246.0,91.7 246.2,93.6 248.1,93.2 248.3,95.1 250.1,94.8 250.3,96.7 251.6,96.2 253.2,97.2 254.1,95.5 255.7,96.4 256.6,94.7 257.9,95.7 259.3,94.5 260.4,96.0 261.8,94.8 262.9,96.3 264.3,95.1 265.1,96.5 267.0,96.1 267.3,98.0 269.1,97.6 269.4,99.5 271.5,99.3 271.1,101.4 273.1,101.9 272.6,103.8 274.3,104.7 273.2,106.2 274.9,107.2 273.8,108.7 275.5,109.6 274.5,111.4 276.3,112.4 276.0,114.0" fill="none" stroke="#333" stroke-width="0.65" stroke-linejoin="round"/>
<polyline points="98.7,98.1 100.4,99.3 100.9,101.4 102.7,101.1 104.0,102.7 105.7,101.5 106.7,103.0 108.8,102.7 109.3,104.7 111.3,104.4 112.3,106.3 114.3,105.6 115.7,107.3 118.1,106.7 117.5,108.9 119.4,110.5 117.5,111.5 118.1,113.8 115.9,114.3 115.9,116.5 113.8,116.5 113.0,118.0" fill="none" stroke="#333" stroke-width="0.65" stroke-linejoin="round"/>
<polyline points="196.5,88.5 198.5,88.5 198.5,90.5 200.4,90.5 200.5,92.3 202.4,92.1 202.5,93.9 204.4,93.7 204.2,94.8 205.3,96.3 203.6,97.2 204.7,98.7 203.0,99.5 204.0,101.1 202.3,101.8 203.2,103.4 201.5,104.1 202.4,105.7 200.8,106.2 201.3,108.1 199.4,108.6 199.9,110.4 198.0,110.9 198.6,112.6 196.9,113.4 197.9,115.0 196.2,115.7 197.2,117.3 195.6,118.0 196.2,119.8 194.4,120.3 195.1,122.1 193.3,122.6 193.8,124.6 191.9,124.5 191.9,126.4 190.0,126.4 190.0,128.3 188.2,128.1 187.9,130.1 185.9,129.9 185.6,131.9 183.6,131.6 183.2,133.5 181.3,133.1 180.8,135.0 178.8,134.6 179.0,136.6 177.0,136.7 177.2,138.6 175.2,138.9 175.8,140.7 174.5,141.5" fill="none" stroke="#333" stroke-width="0.65" stroke-linejoin="round"/>
<polyline points="56.9,21.0 62.0,28.5 68.6,34.6 78.6,39.0 87.7,39.8 100.6,39.3 113.5,42.4 120.2,46.5 125.0,49.0" fill="none" stroke="#c03cb4" stroke-width="1.5"/>
<polyline points="135.3,54.9 149.1,48.8 162.1,43.8 179.5,41.8 192.1,39.9 201.2,35.4 208.0,28.5 214.3,23.9 215.5,21.0" fill="none" stroke="#c03cb4" stroke-width="1.5"/>
<polyline points="105.5,21.0 107.0,25.0 112.6,26.2 117.7,27.2 122.4,27.4 128.1,26.4 133.2,25.2 140.0,25.0 150.0,26.0 161.6,27.0 175.5,28.5 191.0,29.3 196.4,26.2 199.5,23.9 200.5,21.0" fill="none" stroke="#4060c8" stroke-width="1.1" stroke-dasharray="2.6,2.6"/>
<circle cx="168.5" cy="102.4" r="2.25" fill="#e02a1e"/>
<circle cx="185.5" cy="104.9" r="2.25" fill="#e02a1e"/>
<circle cx="208.3" cy="95.9" r="2.25" fill="#e02a1e"/>
<circle cx="198.9" cy="101.3" r="2.25" fill="#e02a1e"/>
<circle cx="227.2" cy="97.7" r="2.25" fill="#e02a1e"/>
<circle cx="237.3" cy="91.5" r="2.25" fill="#e02a1e"/>
<circle cx="239.8" cy="102.4" r="2.25" fill="#e02a1e"/>
<circle cx="149.4" cy="108.5" r="2.25" fill="#e02a1e"/>
<circle cx="165.7" cy="111.0" r="2.25" fill="#e02a1e"/>
<circle cx="180.1" cy="115.8" r="2.25" fill="#e02a1e"/>
<circle cx="195.3" cy="114.7" r="2.25" fill="#e02a1e"/>
<circle cx="210.9" cy="112.1" r="2.25" fill="#e02a1e"/>
<circle cx="227.2" cy="113.9" r="2.25" fill="#e02a1e"/>
<circle cx="238.7" cy="116.8" r="2.25" fill="#e02a1e"/>
<circle cx="125.9" cy="119.4" r="2.25" fill="#e02a1e"/>
<circle cx="151.2" cy="124.8" r="2.25" fill="#e02a1e"/>
<circle cx="165.7" cy="129.1" r="2.25" fill="#e02a1e"/>
<circle cx="179.4" cy="125.5" r="2.25" fill="#e02a1e"/>
<circle cx="191.0" cy="130.2" r="2.25" fill="#e02a1e"/>
<circle cx="210.9" cy="124.8" r="2.25" fill="#e02a1e"/>
<circle cx="214.5" cy="132.0" r="2.25" fill="#e02a1e"/>
<circle cx="132.4" cy="131.3" r="2.25" fill="#e02a1e"/>
<circle cx="157.7" cy="136.4" r="2.25" fill="#e02a1e"/>
<circle cx="200.0" cy="138.5" r="2.25" fill="#e02a1e"/>
<circle cx="180.1" cy="146.9" r="2.25" fill="#e02a1e"/>
<circle cx="190.4" cy="141.7" r="2.25" fill="#e02a1e"/>
<circle cx="199.1" cy="124.9" r="2.25" fill="#e02a1e"/>
<circle cx="203.9" cy="136.9" r="2.25" fill="#e02a1e"/>
<circle cx="226.2" cy="108.9" r="2.25" fill="#e02a1e"/>
<circle cx="242.4" cy="111.1" r="2.25" fill="#e02a1e"/>
<circle cx="238.5" cy="120.5" r="2.25" fill="#e02a1e"/>
</g>
<g transform="translate(130.0,51.4) rotate(30)"><rect x="-5.5" y="-6.5" width="11" height="13" fill="#fff"/><text x="0" y="4.5" text-anchor="middle" class="cl">0</text></g>
<g transform="translate(162.5,61.8) rotate(-30)"><rect x="-10.2" y="-6.5" width="20.5" height="13" fill="#fff"/><text x="0" y="4.5" text-anchor="middle" class="cl">0.1</text></g>
<g transform="translate(205.0,42.5) rotate(-38)"><rect x="-10.2" y="-6.5" width="20.5" height="13" fill="#fff"/><text x="0" y="4.5" text-anchor="middle" class="cl">0.1</text></g>
<g transform="translate(120.0,86.3) rotate(12)"><rect x="-10.2" y="-6.5" width="20.5" height="13" fill="#fff"/><text x="0" y="4.5" text-anchor="middle" class="cl">0.2</text></g>
<g transform="translate(246.5,42.4) rotate(10)"><rect x="-10.2" y="-6.5" width="20.5" height="13" fill="#fff"/><text x="0" y="4.5" text-anchor="middle" class="cl">0.2</text></g>
<g transform="translate(289.0,43.7) rotate(30)"><rect x="-10.2" y="-6.5" width="20.5" height="13" fill="#fff"/><text x="0" y="4.5" text-anchor="middle" class="cl">0.2</text></g>
<g transform="translate(300.5,79.0) rotate(-85)"><rect x="-10.2" y="-6.5" width="20.5" height="13" fill="#fff"/><text x="0" y="4.5" text-anchor="middle" class="cl">0.2</text></g>
<g transform="translate(64.5,71.2) rotate(-20)"><rect x="-10.2" y="-6.5" width="20.5" height="13" fill="#fff"/><text x="0" y="4.5" text-anchor="middle" class="cl">0.3</text></g>
<g transform="translate(246.5,66.8) rotate(13)"><rect x="-10.2" y="-6.5" width="20.5" height="13" fill="#fff"/><text x="0" y="4.5" text-anchor="middle" class="cl">0.4</text></g>
<g transform="translate(171.0,94.8) rotate(-12)"><rect x="-10.2" y="-6.5" width="20.5" height="13" fill="#fff"/><text x="0" y="4.5" text-anchor="middle" class="cl">0.5</text></g>
<g transform="translate(205.0,87.0) rotate(-14)"><rect x="-10.2" y="-6.5" width="20.5" height="13" fill="#fff"/><text x="0" y="4.5" text-anchor="middle" class="cl">0.6</text></g>
<g transform="translate(258.0,100.4) rotate(80)"><rect x="-10.2" y="-6.5" width="20.5" height="13" fill="#fff"/><text x="0" y="4.5" text-anchor="middle" class="cl">0.5</text></g>
<text x="120.6" y="115.1" class="pn" style="font-size:12.2px">Guangxi</text>
<text x="198.0" y="119.5" class="pn">Guangdong</text>
<path d="M352.3,23.2 L352.2,24.6 L350.0,24.4 L348.7,26.3 L346.5,26.1 L345.1,27.2 L343.9,28.6 L341.9,28.5 L340.5,30.6 L338.1,30.8 L339.6,32.0 L340.3,34.4 L338.9,35.6 L337.4,37.4 L340.2,39.8 L338.9,41.7 L337.0,43.1 L335.3,44.3 L334.8,46.3 L332.8,48.0 L330.2,49.5 L330.6,52.1 L328.1,52.0 L327.9,54.1 L327.0,55.3 L325.6,57.6 L324.4,58.9 L322.8,59.9 L322.7,62.3 L320.8,63.3 L319.1,64.7 L317.9,66.7 L316.2,67.2 L315.2,68.9 L313.3,69.8 L312.6,71.3 L311.3,72.9 L312.9,74.2 L314.4,76.0 L313.0,77.3 L312.5,78.9 L312.4,80.6 L311.3,82.6 L312.8,83.0 L315.0,82.9 L315.2,84.7 L316.2,86.0 L314.3,86.8 L313.4,88.3 L311.5,89.5 L309.2,88.2 L307.9,90.5 L305.9,90.4 L303.8,90.8 L302.9,93.0 L301.1,93.2 L300.3,94.8 L297.8,95.0 L296.2,96.1 L294.9,97.3 L293.0,97.5 L292.0,99.3 L290.1,99.3 L288.7,100.3 L287.0,101.2 L286.3,103.1 L284.5,104.5 L284.1,106.7" fill="none" stroke="#000" stroke-width="3.4" stroke-linejoin="round"/>
<path d="M283.7,106.1 L282.6,107.9 L280.8,108.8 L280.4,110.7 L278.5,111.1 L276.6,112.3 L274.3,113.1 L272.9,114.4 L271.9,116.3 L270.3,117.3 L268.4,118.1 L267.6,120.2 L265.6,120.9 L264.1,122.7 L261.8,123.2 L259.5,123.7 L257.6,123.1 L256.4,124.6 L254.6,124.9 L252.7,124.4 L250.8,123.4 L247.8,124.7 L244.6,124.8 L243.0,125.0 L241.2,125.0 L239.7,125.8 L238.7,126.6 L236.7,126.6 L235.4,125.6 L233.9,126.5 L231.8,126.7 L230.0,128.3 L230.4,130.4 L229.6,132.0 L227.9,133.4 L227.5,131.4 L227.6,129.4 L227.3,127.8 L226.5,126.6 L225.6,125.4 L223.8,125.6 L222.2,127.3 L219.7,128.5 L217.7,129.8 L216.9,131.6 L215.9,133.3 L214.6,134.3 L213.5,135.3 L212.4,137.0 L210.6,136.5 L207.2,136.0 L205.6,136.6 L204.2,137.4 L202.8,138.5 L201.3,138.8 L199.9,140.0 L198.0,140.0 L196.6,141.4 L194.6,142.0 L192.6,141.7 L190.0,143.3 L187.8,143.0 L186.7,144.8 L184.8,147.5 L182.7,147.3 L183.6,150.0 L182.8,151.4 L182.9,152.7 L182.0,154.6 L182.9,155.9 L181.5,158.8 L179.9,159.1 L178.3,159.3 L175.8,159.3 L173.9,157.8 L174.6,155.9 L174.5,154.3 L173.2,153.0 L172.9,151.4 L172.2,149.4 L172.3,147.3 L173.1,145.9 L173.3,144.5 L173.8,142.7 L172.6,141.7 L171.2,140.2 L168.9,140.4 L168.3,142.1 L165.1,142.6 L163.7,141.6 L161.6,141.8 L160.5,139.7 L158.5,138.3 L155.5,137.8 L154.5,139.1 L153.4,140.9 L151.3,139.9 L149.8,140.6 L148.1,140.1 L145.0,140.4 L142.8,139.5 L141.1,139.6 L139.5,139.3 L138.3,137.9 L136.9,136.9 L135.3,136.3 L133.3,135.2 L131.6,134.4 L131.1,132.5 L129.9,130.5 L130.7,128.7 L130.9,126.8 L129.1,125.0 L127.2,123.6 L123.9,123.1 L121.9,121.7 L119.6,121.4 L117.3,119.8 L114.8,119.8 L112.9,117.6 L109.8,116.0 L107.6,117.5 L105.7,119.2 L104.7,120.5 L103.5,121.6 L101.2,123.7 L99.1,124.8 L96.9,123.4 L94.6,123.8 L92.9,124.5 L92.6,126.3 L92.0,127.6 L91.0,126.3 L89.3,126.1 L87.0,124.5 L86.1,125.9 L84.0,124.3 L81.5,125.2 L79.4,127.1 L76.8,128.2 L75.0,125.9 L73.2,126.0 L71.4,124.8 L69.7,125.7 L68.7,127.5 L67.1,128.5 L65.5,128.7 L62.2,129.1 L60.5,131.0 L60.0,133.0 L59.5,134.7 L58.6,137.2 L59.1,139.7 L60.9,141.2 L60.6,143.3 L60.2,145.2 L60.9,147.0 L59.3,146.6 L56.2,146.9 L53.2,145.9 L52.5,144.0 L53.4,141.5 L51.4,139.3 L49.2,140.2 L46.9,140.8 L45.3,142.7 L42.9,141.2 L41.3,141.7 L39.6,143.0 L37.6,141.4 L35.0,141.0" fill="none" stroke="#000" stroke-width="2.0" stroke-linejoin="round"/>
<path d="M165.4,165.0 L167.3,164.2 L169.4,163.9 L171.3,163.3 L173.3,163.3 L175.2,162.9 L177.2,164.0 L179.0,162.9 L181.0,162.7 L182.9,163.0 L184.9,163.6 L186.5,162.8 L187.9,163.3 L190.7,164.0 L191.0,166.0 L191.3,167.9 L190.5,169.4 L188.8,170.0 L187.8,171.2 L186.8,172.1 L184.5,174.3 L185.0,176.1 L184.2,177.6 L183.0,178.7 L182.2,180.1 L181.2,181.7 L179.7,182.8 L177.7,184.0 L175.7,185.0 L174.4,186.6 L172.6,186.6 L171.5,187.9 L169.9,188.9 L168.5,187.6 L166.8,187.3 L164.9,186.6 L163.1,185.7 L161.6,184.6 L159.6,184.1 L158.9,182.4 L157.8,180.8 L157.5,178.9 L157.4,177.0 L157.2,175.3 L157.5,173.7 L159.0,171.8 L160.7,171.3 L161.8,170.1 L163.2,169.3 L164.8,168.2 L165.5,165.3" fill="none" stroke="#000" stroke-width="2.2" stroke-linejoin="round"/>
<path d="M338.1,88.6 L339.5,89.4 L340.8,90.1 L342.4,91.2 L344.6,91.9 L345.4,94.5 L344.3,95.9 L343.9,97.5 L343.3,99.4 L343.1,101.4 L341.9,103.0 L341.3,104.8 L340.6,106.6 L341.0,108.6 L339.8,110.2 L339.3,112.0 L339.4,113.8 L338.1,115.1 L337.5,116.5 L337.5,118.5 L336.0,119.6 L335.8,121.5 L334.7,122.7 L333.2,123.6 L332.3,125.1 L331.7,127.5 L330.3,129.2 L329.7,131.0 L329.4,132.9 L329.0,134.9 L326.9,136.2 L326.6,133.0 L324.4,131.1 L323.3,129.1 L321.6,127.6 L320.4,125.9 L320.0,123.9 L319.1,121.8 L317.8,119.9 L316.9,117.6 L317.6,115.4 L318.2,113.4 L319.1,111.7 L319.2,109.6 L320.4,108.1 L321.2,106.4 L323.0,105.4 L323.5,103.5 L324.4,101.9 L325.8,100.2 L327.3,98.7 L328.2,96.8 L328.7,95.2 L329.6,93.8 L331.3,93.2 L332.6,91.7 L334.2,90.6 L335.9,89.2 L338.0,88.9" fill="#fff" stroke="#000" stroke-width="2.0" stroke-linejoin="round"/>
<circle cx="353.7" cy="23.4" r="1.2" fill="#000"/>
<circle cx="349.4" cy="27.1" r="0.9" fill="#000"/>
<circle cx="352.8" cy="26.3" r="1.1" fill="#000"/>
<circle cx="351.8" cy="27.2" r="1.3" fill="#000"/>
<circle cx="348.0" cy="27.3" r="1.4" fill="#000"/>
<circle cx="346.7" cy="28.3" r="1.7" fill="#000"/>
<circle cx="345.1" cy="29.5" r="1.5" fill="#000"/>
<circle cx="347.3" cy="28.4" r="1.4" fill="#000"/>
<circle cx="345.3" cy="27.2" r="1.7" fill="#000"/>
<circle cx="341.2" cy="31.5" r="1.7" fill="#000"/>
<circle cx="340.6" cy="32.6" r="1.2" fill="#000"/>
<circle cx="339.6" cy="31.7" r="1.7" fill="#000"/>
<circle cx="339.8" cy="33.4" r="0.9" fill="#000"/>
<circle cx="340.9" cy="30.3" r="1.2" fill="#000"/>
<circle cx="339.9" cy="32.4" r="1.3" fill="#000"/>
<circle cx="340.0" cy="35.7" r="1.4" fill="#000"/>
<circle cx="341.1" cy="37.0" r="1.5" fill="#000"/>
<circle cx="340.4" cy="38.0" r="1.8" fill="#000"/>
<circle cx="339.6" cy="38.2" r="1.7" fill="#000"/>
<circle cx="341.8" cy="37.9" r="1.4" fill="#000"/>
<circle cx="338.6" cy="42.6" r="1.6" fill="#000"/>
<circle cx="339.1" cy="42.2" r="0.9" fill="#000"/>
<circle cx="340.1" cy="44.2" r="0.9" fill="#000"/>
<circle cx="336.5" cy="46.6" r="1.0" fill="#000"/>
<circle cx="338.4" cy="45.6" r="1.7" fill="#000"/>
<circle cx="338.7" cy="44.6" r="0.8" fill="#000"/>
<circle cx="333.9" cy="48.5" r="1.7" fill="#000"/>
<circle cx="333.6" cy="49.3" r="1.8" fill="#000"/>
<circle cx="332.5" cy="48.9" r="1.4" fill="#000"/>
<circle cx="333.2" cy="48.4" r="1.2" fill="#000"/>
<circle cx="330.1" cy="52.2" r="0.8" fill="#000"/>
<circle cx="329.8" cy="53.1" r="1.8" fill="#000"/>
<circle cx="329.9" cy="53.3" r="1.3" fill="#000"/>
<circle cx="328.9" cy="55.2" r="1.4" fill="#000"/>
<circle cx="328.8" cy="55.3" r="1.7" fill="#000"/>
<circle cx="328.6" cy="54.8" r="1.5" fill="#000"/>
<circle cx="326.9" cy="56.1" r="1.8" fill="#000"/>
<circle cx="327.0" cy="57.1" r="0.8" fill="#000"/>
<circle cx="325.9" cy="59.3" r="0.8" fill="#000"/>
<circle cx="325.7" cy="60.0" r="0.9" fill="#000"/>
<circle cx="325.3" cy="59.8" r="1.5" fill="#000"/>
<circle cx="324.2" cy="62.7" r="1.5" fill="#000"/>
<circle cx="323.6" cy="60.7" r="1.5" fill="#000"/>
<circle cx="321.8" cy="63.9" r="1.3" fill="#000"/>
<circle cx="319.9" cy="66.1" r="1.2" fill="#000"/>
<circle cx="320.8" cy="65.3" r="1.4" fill="#000"/>
<circle cx="320.9" cy="65.3" r="1.6" fill="#000"/>
<circle cx="318.6" cy="68.2" r="1.5" fill="#000"/>
<circle cx="317.3" cy="67.8" r="1.6" fill="#000"/>
<circle cx="317.4" cy="67.6" r="1.2" fill="#000"/>
<circle cx="313.4" cy="69.6" r="1.1" fill="#000"/>
<circle cx="315.3" cy="70.7" r="1.2" fill="#000"/>
<circle cx="312.4" cy="72.4" r="1.1" fill="#000"/>
<circle cx="314.5" cy="72.3" r="1.3" fill="#000"/>
<circle cx="312.8" cy="70.5" r="1.3" fill="#000"/>
<circle cx="314.0" cy="71.8" r="1.6" fill="#000"/>
<circle cx="312.9" cy="72.6" r="1.6" fill="#000"/>
<circle cx="315.1" cy="73.2" r="1.1" fill="#000"/>
<circle cx="314.8" cy="76.7" r="1.6" fill="#000"/>
<circle cx="314.7" cy="77.2" r="1.2" fill="#000"/>
<circle cx="314.6" cy="77.7" r="1.7" fill="#000"/>
<circle cx="312.6" cy="79.5" r="1.7" fill="#000"/>
<circle cx="314.5" cy="82.5" r="1.2" fill="#000"/>
<circle cx="314.2" cy="82.6" r="1.0" fill="#000"/>
<circle cx="314.7" cy="80.5" r="1.5" fill="#000"/>
<circle cx="313.5" cy="81.6" r="1.1" fill="#000"/>
<circle cx="312.4" cy="81.8" r="1.4" fill="#000"/>
<circle cx="317.1" cy="82.7" r="0.8" fill="#000"/>
<circle cx="317.9" cy="84.6" r="1.7" fill="#000"/>
<circle cx="318.4" cy="84.3" r="1.4" fill="#000"/>
<circle cx="317.8" cy="87.6" r="1.0" fill="#000"/>
<circle cx="316.9" cy="88.3" r="1.3" fill="#000"/>
<circle cx="317.1" cy="89.1" r="1.4" fill="#000"/>
<circle cx="312.2" cy="89.9" r="1.7" fill="#000"/>
<circle cx="311.8" cy="91.4" r="1.2" fill="#000"/>
<circle cx="312.9" cy="90.6" r="1.6" fill="#000"/>
<circle cx="309.5" cy="91.7" r="1.7" fill="#000"/>
<circle cx="307.2" cy="92.4" r="0.8" fill="#000"/>
<circle cx="307.9" cy="92.4" r="0.8" fill="#000"/>
<circle cx="305.5" cy="91.6" r="1.3" fill="#000"/>
<circle cx="305.3" cy="92.4" r="1.6" fill="#000"/>
<circle cx="306.0" cy="90.6" r="0.9" fill="#000"/>
<circle cx="302.4" cy="92.9" r="1.8" fill="#000"/>
<circle cx="300.3" cy="94.2" r="1.3" fill="#000"/>
<circle cx="302.2" cy="93.8" r="1.2" fill="#000"/>
<circle cx="298.8" cy="97.1" r="1.2" fill="#000"/>
<circle cx="299.8" cy="95.4" r="0.9" fill="#000"/>
<circle cx="299.3" cy="97.2" r="1.2" fill="#000"/>
<circle cx="296.6" cy="97.4" r="1.2" fill="#000"/>
<circle cx="295.7" cy="99.7" r="1.2" fill="#000"/>
<circle cx="294.9" cy="99.6" r="1.2" fill="#000"/>
<circle cx="293.0" cy="100.2" r="1.5" fill="#000"/>
<circle cx="293.0" cy="100.8" r="1.3" fill="#000"/>
<circle cx="293.4" cy="100.1" r="1.5" fill="#000"/>
<circle cx="290.7" cy="101.1" r="1.2" fill="#000"/>
<circle cx="288.9" cy="103.6" r="1.2" fill="#000"/>
<circle cx="288.6" cy="103.3" r="1.1" fill="#000"/>
<circle cx="286.3" cy="104.1" r="1.6" fill="#000"/>
<circle cx="287.5" cy="106.2" r="1.6" fill="#000"/>
<circle cx="287.1" cy="106.0" r="1.4" fill="#000"/>
<circle cx="288.5" cy="102.8" r="0.8" fill="#000"/>
<path d="M254.7,126.2 L253.4,125.0 L252.1,126.4 L251.0,126.3 L249.8,126.5 L248.2,125.3 L247.3,126.9 L246.2,127.4 L244.4,126.2 L243.2,127.9 L241.2,126.9 L240.2,127.9 L238.8,128.2 L237.6,128.7 L236.8,129.9 L235.4,130.0 L234.8,131.9 L233.2,130.8 L232.2,131.6 L230.8,131.6 L229.9,133.5 L228.1,133.0 L226.9,132.3 L225.1,133.7 L224.0,132.9 L222.2,132.4 L220.2,131.9 L219.6,133.6 L218.5,134.4 L217.2,134.9 L215.7,135.0 L214.4,135.4 L213.5,136.5" fill="none" stroke="#000" stroke-width="3.2" stroke-linejoin="round"/>
<path d="M223.8,125.5 L224.6,121.8 L226.3,120.3 L228.3,121.2 L229.0,124.0 L228.5,127.5 L226.5,129.5 L224.5,128.5 Z" fill="#fff" stroke="#000" stroke-width="1.1"/>
<circle cx="229" cy="136" r="1.2" fill="#000"/>
<circle cx="233" cy="134.6" r="1.1" fill="#000"/>
<circle cx="238" cy="132.5" r="1.0" fill="#000"/>
<circle cx="222" cy="135.5" r="1.1" fill="#000"/>
<circle cx="246" cy="129.5" r="1.0" fill="#000"/>
<circle cx="226" cy="134.5" r="1.0" fill="#000"/>
<circle cx="218" cy="136.5" r="1.0" fill="#000"/>
<circle cx="236.5" cy="128.5" r="1.0" fill="#000"/>
<circle cx="231.5" cy="129.5" r="1.2" fill="#000"/>
<circle cx="226.5" cy="131" r="1.1" fill="#000"/>
<circle cx="309.5" cy="114.5" r="1.3" fill="#000"/>
<circle cx="311.5" cy="117" r="1.1" fill="#000"/>
<circle cx="309" cy="117.5" r="1.0" fill="#000"/>
<circle cx="308" cy="112.5" r="0.9" fill="#000"/>
<circle cx="311.8" cy="113.2" r="0.8" fill="#000"/>
<circle cx="310.5" cy="119.3" r="0.8" fill="#000"/>
<circle cx="307.2" cy="115.6" r="0.8" fill="#000"/>
<circle cx="337.2" cy="126.1" r="1" fill="#000"/>
<circle cx="338" cy="134.6" r="1" fill="#000"/>
<circle cx="346.5" cy="85.8" r="0.8" fill="#000"/>
<circle cx="164.2" cy="149" r="1.1" fill="#000"/>
<circle cx="318" cy="70.5" r="1.2" fill="#000"/>
<circle cx="320" cy="73" r="1" fill="#000"/>
<circle cx="315" cy="80" r="1" fill="#000"/>
<circle cx="318" cy="61" r="0.9" fill="#000"/>
<circle cx="330" cy="54" r="0.9" fill="#000"/>
<circle cx="335" cy="49.5" r="1.1" fill="#000"/>
<circle cx="343" cy="37" r="1" fill="#000"/>
<circle cx="345" cy="33" r="1" fill="#000"/>
<circle cx="345" cy="42" r="0.8" fill="#000"/>
</g>
<line x1="36.30" y1="192.00" x2="36.30" y2="198.00" stroke="#000" stroke-width="1.4"/>
<line x1="36.30" y1="23.20" x2="36.30" y2="17.20" stroke="#000" stroke-width="1.4"/>
<line x1="50.34" y1="192.00" x2="50.34" y2="195.00" stroke="#000" stroke-width="1"/>
<line x1="50.34" y1="23.20" x2="50.34" y2="20.20" stroke="#000" stroke-width="1"/>
<line x1="64.38" y1="192.00" x2="64.38" y2="195.00" stroke="#000" stroke-width="1"/>
<line x1="64.38" y1="23.20" x2="64.38" y2="20.20" stroke="#000" stroke-width="1"/>
<line x1="78.42" y1="192.00" x2="78.42" y2="195.00" stroke="#000" stroke-width="1"/>
<line x1="78.42" y1="23.20" x2="78.42" y2="20.20" stroke="#000" stroke-width="1"/>
<line x1="92.46" y1="192.00" x2="92.46" y2="195.00" stroke="#000" stroke-width="1"/>
<line x1="92.46" y1="23.20" x2="92.46" y2="20.20" stroke="#000" stroke-width="1"/>
<line x1="106.50" y1="192.00" x2="106.50" y2="198.00" stroke="#000" stroke-width="1.4"/>
<line x1="106.50" y1="23.20" x2="106.50" y2="17.20" stroke="#000" stroke-width="1.4"/>
<line x1="120.54" y1="192.00" x2="120.54" y2="195.00" stroke="#000" stroke-width="1"/>
<line x1="120.54" y1="23.20" x2="120.54" y2="20.20" stroke="#000" stroke-width="1"/>
<line x1="134.58" y1="192.00" x2="134.58" y2="195.00" stroke="#000" stroke-width="1"/>
<line x1="134.58" y1="23.20" x2="134.58" y2="20.20" stroke="#000" stroke-width="1"/>
<line x1="148.62" y1="192.00" x2="148.62" y2="195.00" stroke="#000" stroke-width="1"/>
<line x1="148.62" y1="23.20" x2="148.62" y2="20.20" stroke="#000" stroke-width="1"/>
<line x1="162.66" y1="192.00" x2="162.66" y2="195.00" stroke="#000" stroke-width="1"/>
<line x1="162.66" y1="23.20" x2="162.66" y2="20.20" stroke="#000" stroke-width="1"/>
<line x1="176.70" y1="192.00" x2="176.70" y2="198.00" stroke="#000" stroke-width="1.4"/>
<line x1="176.70" y1="23.20" x2="176.70" y2="17.20" stroke="#000" stroke-width="1.4"/>
<line x1="190.74" y1="192.00" x2="190.74" y2="195.00" stroke="#000" stroke-width="1"/>
<line x1="190.74" y1="23.20" x2="190.74" y2="20.20" stroke="#000" stroke-width="1"/>
<line x1="204.78" y1="192.00" x2="204.78" y2="195.00" stroke="#000" stroke-width="1"/>
<line x1="204.78" y1="23.20" x2="204.78" y2="20.20" stroke="#000" stroke-width="1"/>
<line x1="218.82" y1="192.00" x2="218.82" y2="195.00" stroke="#000" stroke-width="1"/>
<line x1="218.82" y1="23.20" x2="218.82" y2="20.20" stroke="#000" stroke-width="1"/>
<line x1="232.86" y1="192.00" x2="232.86" y2="195.00" stroke="#000" stroke-width="1"/>
<line x1="232.86" y1="23.20" x2="232.86" y2="20.20" stroke="#000" stroke-width="1"/>
<line x1="246.90" y1="192.00" x2="246.90" y2="198.00" stroke="#000" stroke-width="1.4"/>
<line x1="246.90" y1="23.20" x2="246.90" y2="17.20" stroke="#000" stroke-width="1.4"/>
<line x1="260.94" y1="192.00" x2="260.94" y2="195.00" stroke="#000" stroke-width="1"/>
<line x1="260.94" y1="23.20" x2="260.94" y2="20.20" stroke="#000" stroke-width="1"/>
<line x1="274.98" y1="192.00" x2="274.98" y2="195.00" stroke="#000" stroke-width="1"/>
<line x1="274.98" y1="23.20" x2="274.98" y2="20.20" stroke="#000" stroke-width="1"/>
<line x1="289.02" y1="192.00" x2="289.02" y2="195.00" stroke="#000" stroke-width="1"/>
<line x1="289.02" y1="23.20" x2="289.02" y2="20.20" stroke="#000" stroke-width="1"/>
<line x1="303.06" y1="192.00" x2="303.06" y2="195.00" stroke="#000" stroke-width="1"/>
<line x1="303.06" y1="23.20" x2="303.06" y2="20.20" stroke="#000" stroke-width="1"/>
<line x1="317.10" y1="192.00" x2="317.10" y2="198.00" stroke="#000" stroke-width="1.4"/>
<line x1="317.10" y1="23.20" x2="317.10" y2="17.20" stroke="#000" stroke-width="1.4"/>
<line x1="331.14" y1="192.00" x2="331.14" y2="195.00" stroke="#000" stroke-width="1"/>
<line x1="331.14" y1="23.20" x2="331.14" y2="20.20" stroke="#000" stroke-width="1"/>
<line x1="345.18" y1="192.00" x2="345.18" y2="195.00" stroke="#000" stroke-width="1"/>
<line x1="345.18" y1="23.20" x2="345.18" y2="20.20" stroke="#000" stroke-width="1"/>
<line x1="359.22" y1="192.00" x2="359.22" y2="195.00" stroke="#000" stroke-width="1"/>
<line x1="359.22" y1="23.20" x2="359.22" y2="20.20" stroke="#000" stroke-width="1"/>
<line x1="373.26" y1="192.00" x2="373.26" y2="198.00" stroke="#000" stroke-width="1.4"/>
<line x1="373.26" y1="23.20" x2="373.26" y2="17.20" stroke="#000" stroke-width="1.4"/>
<line x1="30.30" y1="192.04" x2="36.30" y2="192.04" stroke="#000" stroke-width="1.4"/>
<line x1="373.30" y1="192.04" x2="379.30" y2="192.04" stroke="#000" stroke-width="1.4"/>
<line x1="33.30" y1="177.97" x2="36.30" y2="177.97" stroke="#000" stroke-width="1"/>
<line x1="373.30" y1="177.97" x2="376.30" y2="177.97" stroke="#000" stroke-width="1"/>
<line x1="30.30" y1="163.90" x2="36.30" y2="163.90" stroke="#000" stroke-width="1.4"/>
<line x1="373.30" y1="163.90" x2="379.30" y2="163.90" stroke="#000" stroke-width="1.4"/>
<line x1="33.30" y1="149.83" x2="36.30" y2="149.83" stroke="#000" stroke-width="1"/>
<line x1="373.30" y1="149.83" x2="376.30" y2="149.83" stroke="#000" stroke-width="1"/>
<line x1="33.30" y1="135.76" x2="36.30" y2="135.76" stroke="#000" stroke-width="1"/>
<line x1="373.30" y1="135.76" x2="376.30" y2="135.76" stroke="#000" stroke-width="1"/>
<line x1="33.30" y1="121.69" x2="36.30" y2="121.69" stroke="#000" stroke-width="1"/>
<line x1="373.30" y1="121.69" x2="376.30" y2="121.69" stroke="#000" stroke-width="1"/>
<line x1="33.30" y1="107.62" x2="36.30" y2="107.62" stroke="#000" stroke-width="1"/>
<line x1="373.30" y1="107.62" x2="376.30" y2="107.62" stroke="#000" stroke-width="1"/>
<line x1="30.30" y1="93.55" x2="36.30" y2="93.55" stroke="#000" stroke-width="1.4"/>
<line x1="373.30" y1="93.55" x2="379.30" y2="93.55" stroke="#000" stroke-width="1.4"/>
<line x1="33.30" y1="79.48" x2="36.30" y2="79.48" stroke="#000" stroke-width="1"/>
<line x1="373.30" y1="79.48" x2="376.30" y2="79.48" stroke="#000" stroke-width="1"/>
<line x1="33.30" y1="65.41" x2="36.30" y2="65.41" stroke="#000" stroke-width="1"/>
<line x1="373.30" y1="65.41" x2="376.30" y2="65.41" stroke="#000" stroke-width="1"/>
<line x1="33.30" y1="51.34" x2="36.30" y2="51.34" stroke="#000" stroke-width="1"/>
<line x1="373.30" y1="51.34" x2="376.30" y2="51.34" stroke="#000" stroke-width="1"/>
<line x1="33.30" y1="37.27" x2="36.30" y2="37.27" stroke="#000" stroke-width="1"/>
<line x1="373.30" y1="37.27" x2="376.30" y2="37.27" stroke="#000" stroke-width="1"/>
<line x1="30.30" y1="23.20" x2="36.30" y2="23.20" stroke="#000" stroke-width="1.4"/>
<line x1="373.30" y1="23.20" x2="379.30" y2="23.20" stroke="#000" stroke-width="1.4"/>
<rect x="36.3" y="23.2" width="337.00" height="168.80" fill="none" stroke="#000" stroke-width="1.5"/>
<text x="23.5" y="26.90" text-anchor="end" class="ml">30°N</text>
<text x="23.5" y="97.25" text-anchor="end" class="ml">25°N</text>
<text x="23.5" y="167.60" text-anchor="end" class="ml">20°N</text>
<text x="23.5" y="195.74" text-anchor="end" class="ml">18°N</text>
<text x="36.30" y="212.8" text-anchor="middle" class="ml">100°E</text>
<text x="176.70" y="212.8" text-anchor="middle" class="ml">110°E</text>
<text x="317.10" y="212.8" text-anchor="middle" class="ml">120°E</text>
<text x="373.26" y="212.8" text-anchor="middle" class="ml">124°E</text>
</svg>
</body></html>
